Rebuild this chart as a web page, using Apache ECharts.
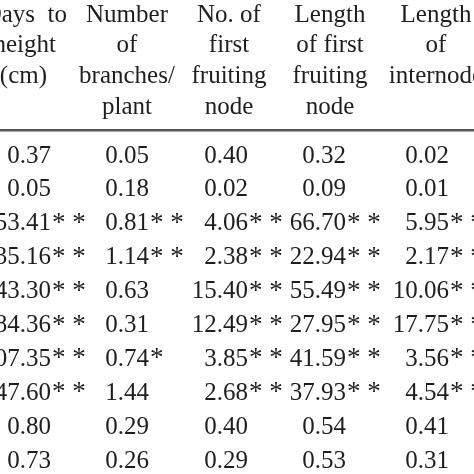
<!DOCTYPE html>
<html><head><meta charset="utf-8">
<script src="https://cdn.jsdelivr.net/npm/echarts@6/dist/echarts.min.js"></script>
<style>html,body{margin:0;padding:0;background:#fff}#c{width:474px;height:474px}</style>
</head><body><div id="c"></div>
<script>
var headers = [
  ["Days  to", "height", "(cm)", ""],
  ["Number", "of", "branches/", "plant"],
  ["No. of", "first", "fruiting", "node"],
  ["Length", "of first", "fruiting", "node"],
  ["Length", "of", "internode", ""]
];
var col1 = ["0.37","0.05","53.41**","35.16**","43.30**","84.36**","07.35**","47.60**","0.80","0.73"];
var col2 = ["0.05","0.18","0.81**","1.14**","0.63","0.31","0.74*","1.44","0.29","0.26"];
var col3 = ["0.40","0.02","4.06**","2.38**","15.40**","12.49**","3.85**","2.68**","0.40","0.29"];
var col4 = ["0.32","0.09","66.70**","22.94**","55.49**","27.95**","41.59**","37.93**","0.54","0.53"];
var col5 = ["0.02","0.01","5.95**","2.17**","10.06**","17.75**","3.56**","4.54**","0.41","0.31"];
var columns = [col1,col2,col3,col4,col5];

var chart = echarts.init(document.getElementById('c'));
var font = '25px "Liberation Serif", "DejaVu Serif", serif';
var starFont = '27px "Liberation Serif", "DejaVu Serif", serif';
var color = '#1e1e1e';
var els = [];
var hdrX = [null,127,229,330,436];
var hdrRight1 = [67,56,47];
var hdrY = [15,45,76,107];
headers.forEach(function(h,ci){
  h.forEach(function(t,ri){
    if(!t) return;
    if(ci===0){
      els.push({type:'text',style:{text:t,x:hdrRight1[ri],y:hdrY[ri],font:font,fill:color,align:'right',verticalAlign:'middle'}});
    } else {
      els.push({type:'text',style:{text:t,x:hdrX[ci],y:hdrY[ri],font:font,fill:color,align:'center',verticalAlign:'middle'}});
    }
  });
});
els.push({type:'rect',shape:{x:0,y:129,width:474,height:2.5},style:{fill:'#555'}});
var anchors = [51,149,248,346,449];
var rowY0 = 156, rowDy = 33.9;
columns.forEach(function(col,ci){
  col.forEach(function(v,ri){
    var m = v.match(/^([0-9.]+)(\**)$/);
    var y = rowY0 + ri*rowDy;
    els.push({type:'text',style:{text:m[1],x:anchors[ci],y:y,font:font,fill:color,align:'right',verticalAlign:'middle'}});
    if(m[2]) els.push({type:'text',style:{text:m[2].split('').join(' '),x:anchors[ci]+1,y:y,font:starFont,fill:color,align:'left',verticalAlign:'middle'}});
  });
});
chart.setOption({animation:false,graphic:els});
</script></body></html>
